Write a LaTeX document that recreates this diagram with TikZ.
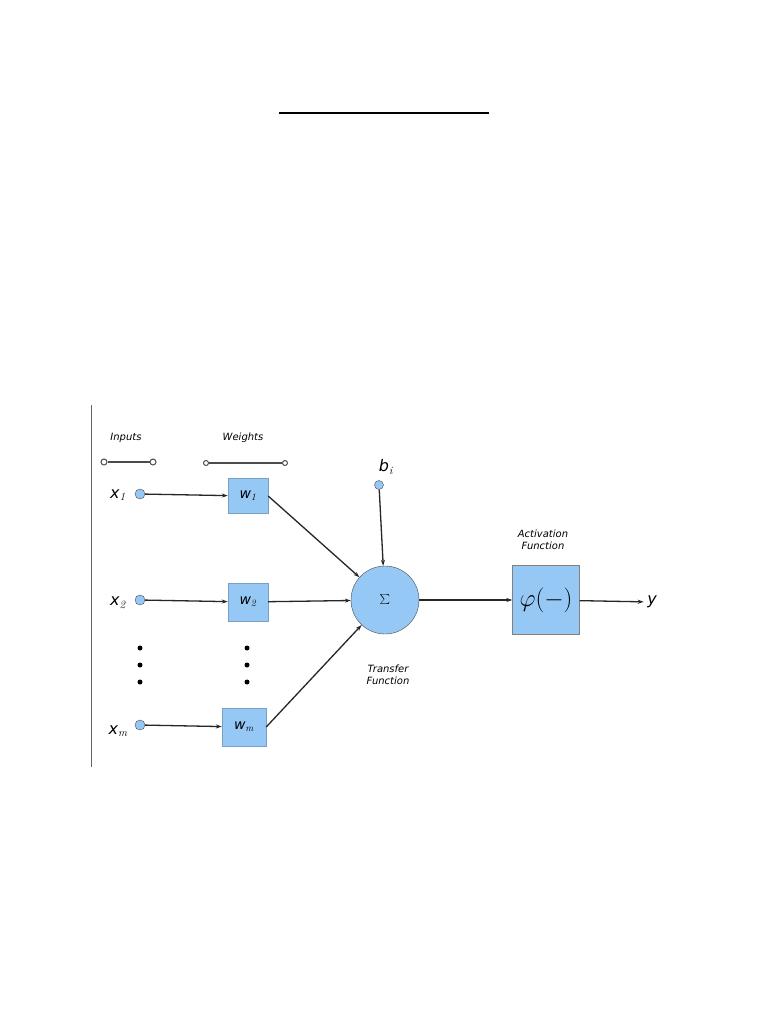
\documentclass[tikz,border=0pt]{standalone}
\usepackage{fontspec}
\setsansfont{DejaVu Sans}
\usetikzlibrary{arrows.meta}
\definecolor{nblue}{RGB}{150,200,245}
\begin{document}
\begin{tikzpicture}[x=1pt,y=-1pt,
  lbl/.style={font=\sffamily\itshape\fontsize{10}{12}\selectfont},
  var/.style={font=\sffamily\itshape\fontsize{16}{16}\selectfont},
  inp/.style={circle,draw=black!70,fill=nblue,inner sep=0,minimum size=10pt},
  wbox/.style={draw=nblue!80!black,fill=nblue,minimum width=40pt,minimum height=35pt,inner sep=0,font=\sffamily\itshape\fontsize{14}{14}\selectfont},
  con/.style={draw=black!85,line width=1.3pt,-{Stealth[length=6pt,width=4pt]}},
  bar/.style={draw=black!70,line width=1.2pt},
  knob/.style={circle,draw=black!70,line width=1pt,fill=white,inner sep=0,minimum size=6pt},
  dot/.style={circle,fill=black,inner sep=0,minimum size=5pt}]
\useasboundingbox (0,0) rectangle (768,1024);
\fill[white] (0,0) rectangle (768,1024);
\coordinate (t1) at (279,113); \coordinate (t2) at (489,113);
\draw[line width=1.5pt] (t1) -- (t2);
\coordinate (v1) at (91,405); \coordinate (v2) at (91,767);
\draw[black!60,line width=1pt] (v1) -- (v2);
\node[lbl] (inputs) at (126,438) {Inputs};
\node[lbl] (weights) at (243,438) {Weights};
\node[knob] (ia) at (104,462) {}; \node[knob] (ib) at (153,462) {};
\draw[bar] (ia) -- (ib);
\node[knob,minimum size=5pt] (wa) at (206,463) {}; \node[knob,minimum size=5pt] (wb) at (285,463) {};
\draw[bar] (wa) -- (wb);
\node[var] (lx1) at (118,495) {x$_{\mathit 1}$};
\node[var] (lx2) at (118,603) {x$_{\mathit 2}$};
\node[var] (lxm) at (118,731) {x$_{\mathit m}$};
\node[inp] (x1) at (140,494) {};
\node[inp] (x2) at (140,600) {};
\node[inp] (xm) at (140,725) {};
\node[wbox] (w1) at (248,496) {w$_{\mathit 1}$};
\node[wbox,minimum height=38pt] (w2) at (248,602) {w$_{\mathit 2}$};
\node[wbox,minimum width=44pt,minimum height=38pt] (wm) at (244,727) {w$_{\mathit m}$};
\foreach \yy [count=\i] in {648,665,682}{
  \node[dot] (da\i) at (140,\yy) {};
  \node[dot] (db\i) at (247,\yy) {};}
\node[circle,draw=black!70,fill=nblue,minimum size=68pt,inner sep=0,font=\fontsize{40}{40}\selectfont] (sum) at (385,600) {$\sum$};
\node[inp,minimum size=9pt] (b) at (379,485) {};
\node[var] (lb) at (386,467) {b$_{\mathit i}$};
\node[lbl,align=center] (tf) at (388,675) {Transfer\\Function};
\node[lbl,align=center] (af) at (543,540) {Activation\\Function};
\node[draw=black!50,fill=nblue,minimum width=67pt,minimum height=69pt,inner sep=0,font=\fontsize{24}{24}\selectfont] (phi) at (546,600) {$\varphi(-)$};
\node[var] (y) at (652,602) {y};
\draw[con] (x1) -- (w1);
\draw[con] (x2) -- (w2);
\draw[con] (xm) -- (wm);
\draw[con] (w1.east) -- (sum);
\draw[con] (w2) -- (sum);
\draw[con] (wm.east) -- (sum);
\draw[con] (b) -- (sum);
\draw[con] (sum) -- (phi);
\draw[con] (phi) -- (y);
\end{tikzpicture}
\end{document}
